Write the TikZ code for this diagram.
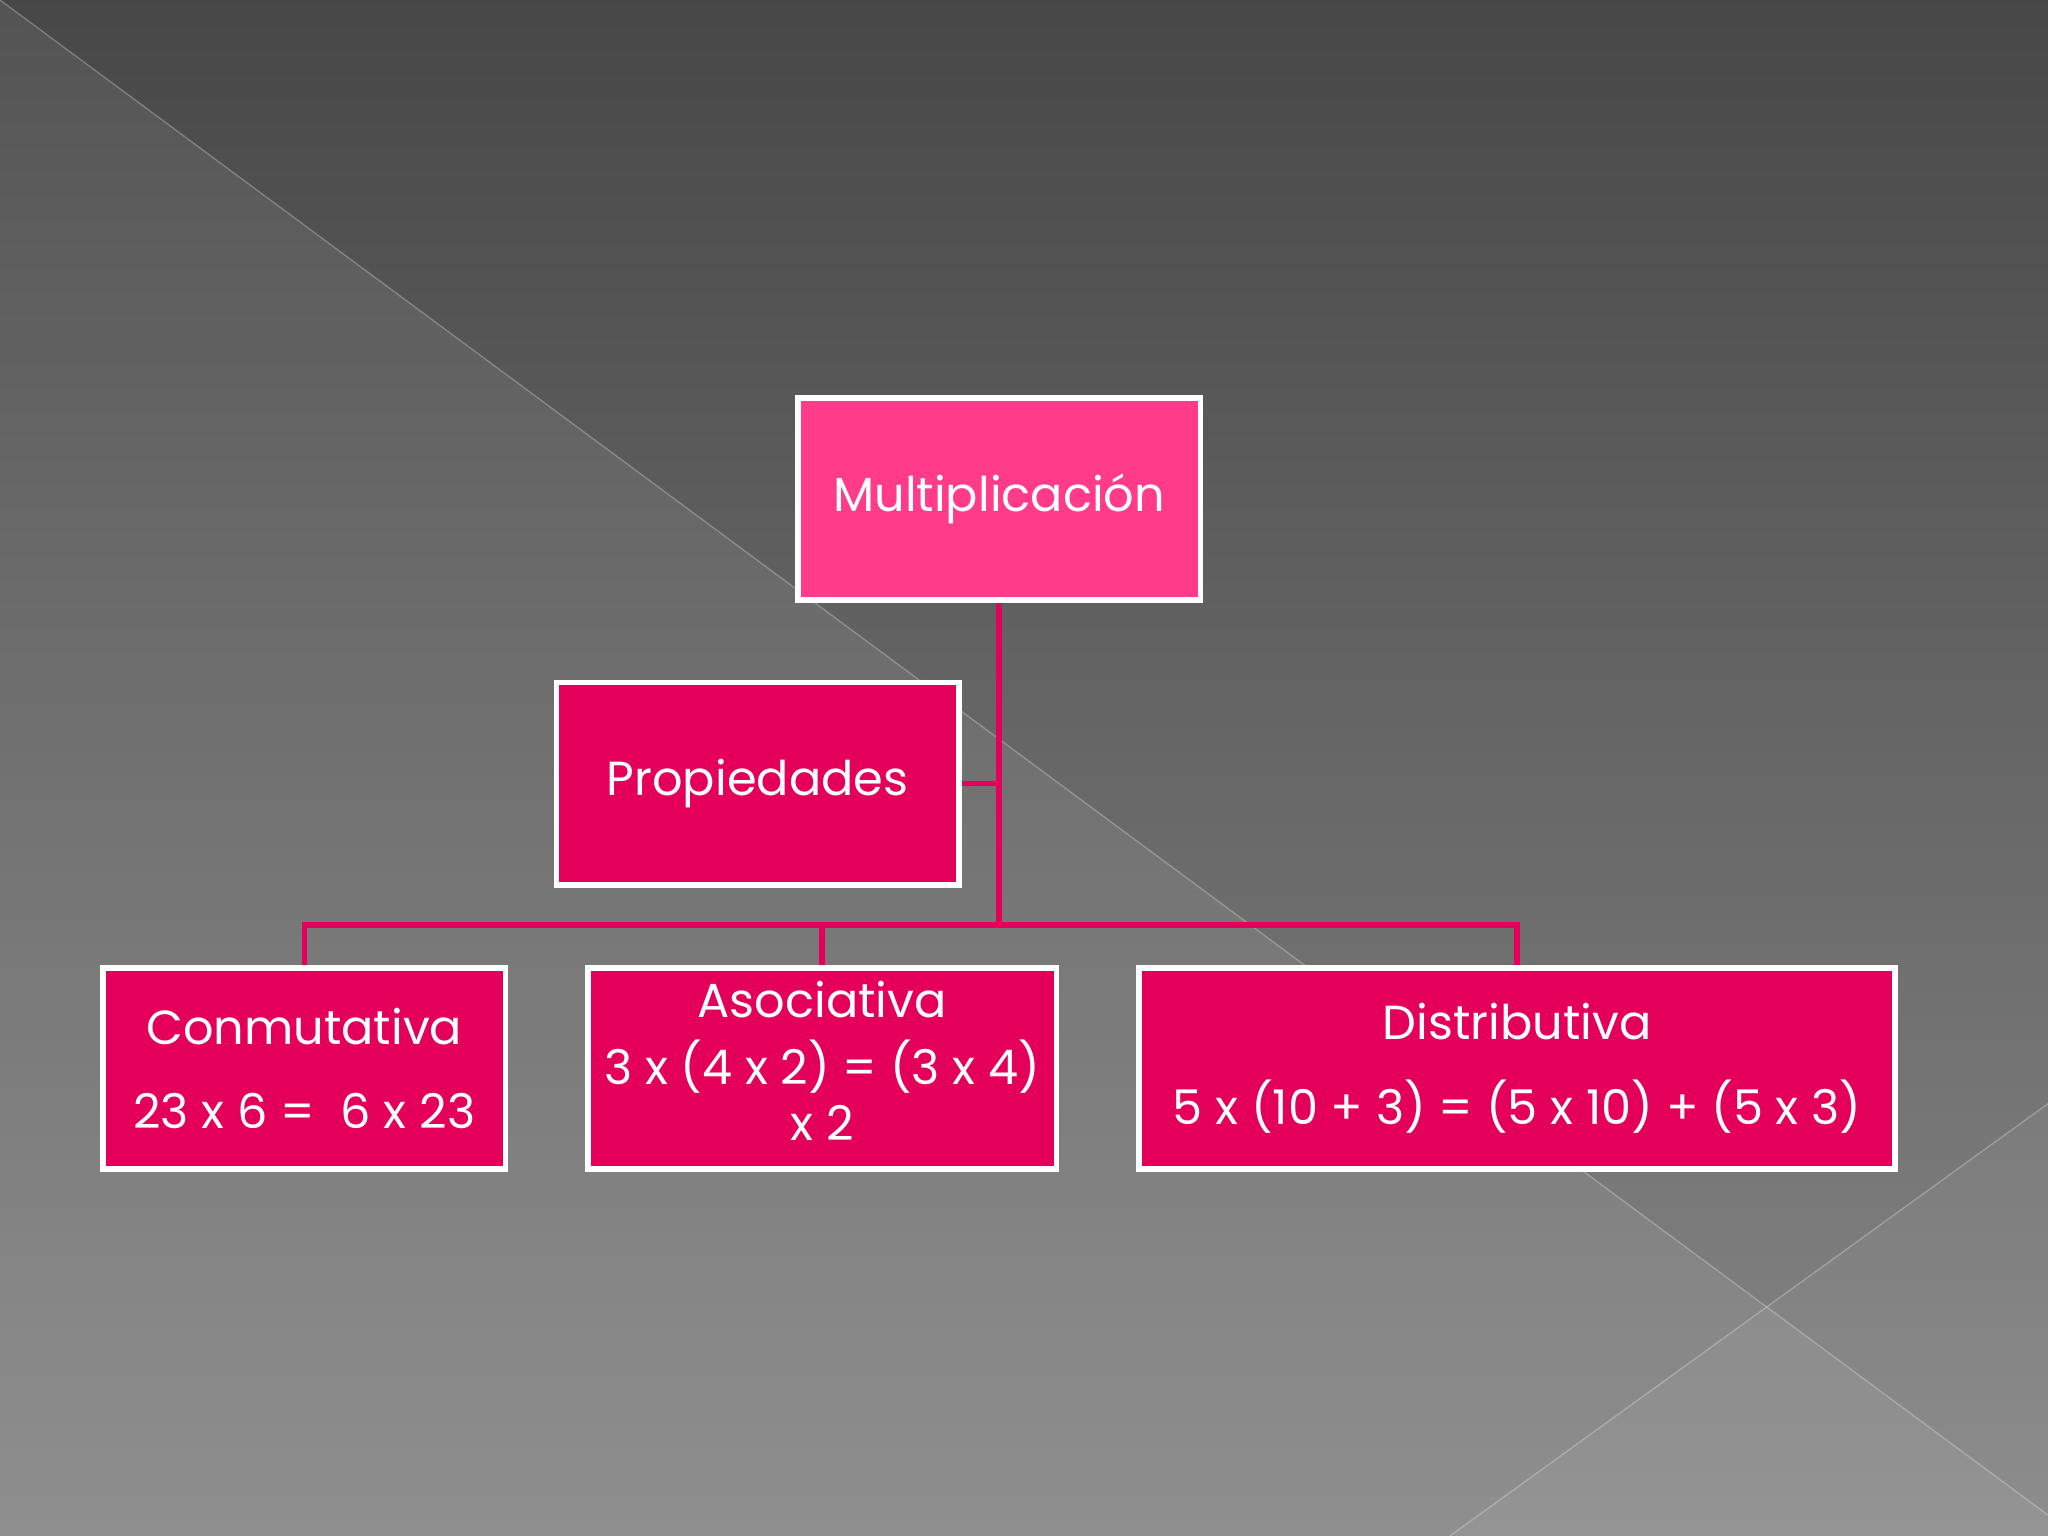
\documentclass[tikz,border=0pt]{standalone}
\usepackage{fontspec}
\setmainfont{Poppins}
\begin{document}
\begin{tikzpicture}[x=0.01306cm,y=-0.01306cm,
 box/.style={draw=white,line width=1.6pt,fill=bx,text=white,font=\fontsize{13.6}{16}\selectfont,align=center,inner sep=0pt},
 con/.style={draw=bx,line width=1.6pt}]
\definecolor{bx}{HTML}{E4005A}
\definecolor{bt}{HTML}{FF3B8A}
\useasboundingbox (0,0) rectangle (1568,1176);
\shade[top color=black!72,bottom color=black!47] (0,0) rectangle (1568,1176);
\fill[white,opacity=0.07] (0,0) -- (1568,1160) -- (1568,1176) -- (0,1176) -- cycle;
\draw[white,opacity=0.25,line width=0.4pt] (0,0) -- (1568,1160);
\fill[white,opacity=0.05] (1568,845) -- (1110,1176) -- (1568,1176) -- cycle;
\draw[white,opacity=0.25,line width=0.4pt] (1568,845) -- (1110,1176);
\node[box,fill=bt,minimum width=308*0.01306cm,minimum height=155*0.01306cm] (m) at (765,382) {Multiplicación};
\node[box,minimum width=308*0.01306cm,minimum height=155*0.01306cm] (p) at (580,600) {Propiedades};
\node[box,minimum width=308*0.01306cm,minimum height=154*0.01306cm] (c) at (233,818) {Conmutativa\\[8pt]23 x 6 =\ \ 6 x 23};
\node[box,minimum width=359*0.01306cm,minimum height=154*0.01306cm] (a) at (629.5,818) {};
\node[box,draw=none,fill=none] (at) at (629.5,812) {Asociativa\\[3pt]3 x (4 x 2) = (3 x 4)\\[0pt]x 2};
\node[box,minimum width=579*0.01306cm,minimum height=154*0.01306cm] (d) at (1161.5,818) {Distributiva\\[8pt]5 x (10 + 3) = (5 x 10) + (5 x 3)};
\coordinate (j) at (765,708);
\draw[con] (m.south) -- (j);
\draw[con] (p.east) -- (765,600);
\draw[con] (c.north) |- (j);
\draw[con] (d.north) |- (j);
\draw[con] (a.north) -- (a.north |- j);
\end{tikzpicture}
\end{document}
